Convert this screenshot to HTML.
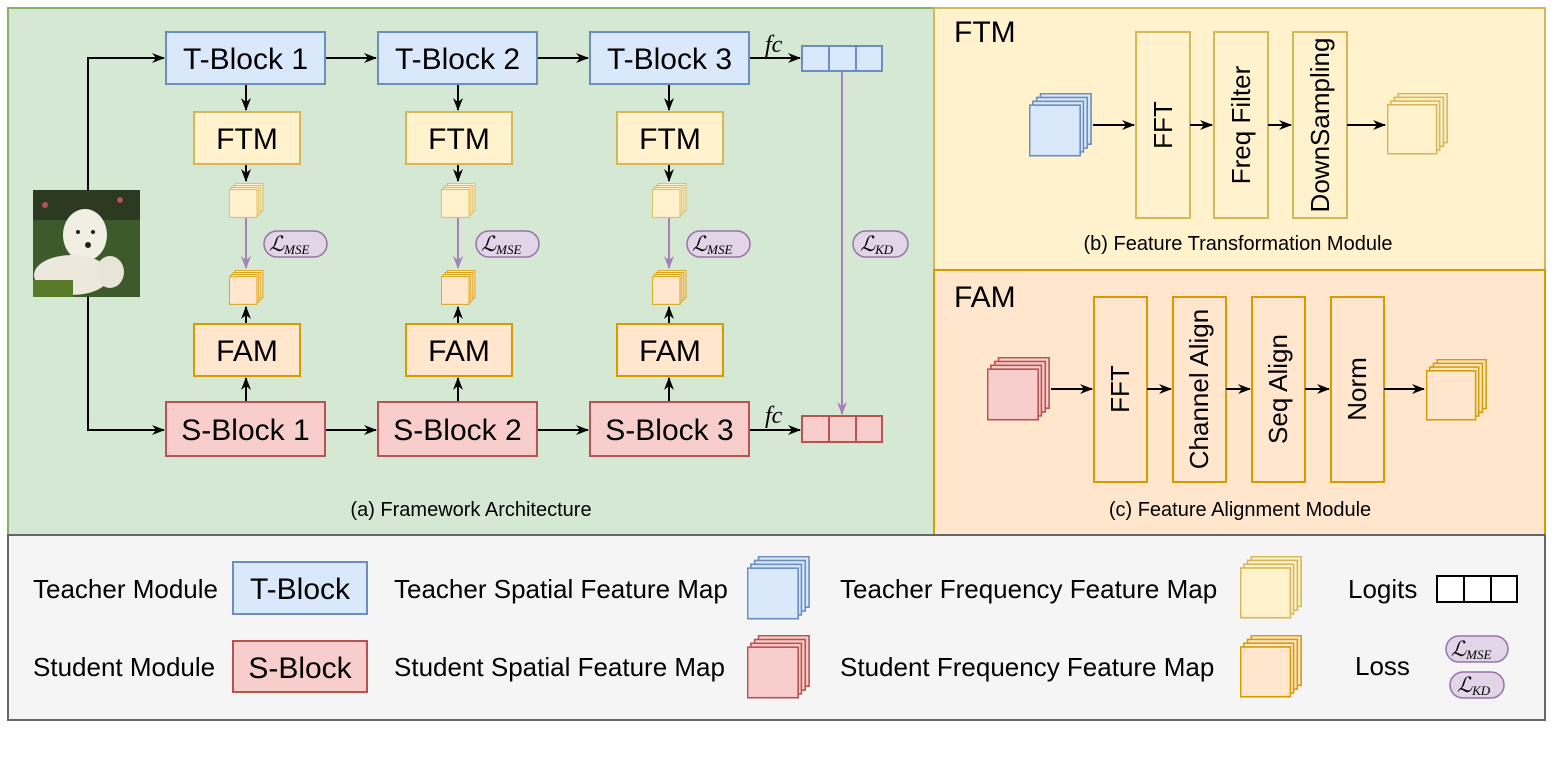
<!DOCTYPE html>
<html><head><meta charset="utf-8"><style>
html,body{margin:0;padding:0;background:#fff;}
svg{display:block;font-family:"Liberation Sans",sans-serif;}
</style></head><body>
<svg width="1554" height="761" viewBox="0 0 1554 761" xmlns="http://www.w3.org/2000/svg">
<defs>
<marker id="ab" markerWidth="13" markerHeight="12" refX="12" refY="6" orient="auto" markerUnits="userSpaceOnUse"><path d="M0,1 L13,6 L0,11 L4,6 z" fill="#000"/></marker>
<marker id="ap" markerWidth="13" markerHeight="12" refX="12" refY="6" orient="auto" markerUnits="userSpaceOnUse"><path d="M0,1 L13,6 L0,11 L4,6 z" fill="#a680b8"/></marker>
<symbol id="sb" viewBox="0 0 100 100"><g fill="#dae8fc" stroke="#6c8ebf" stroke-width="2.5"><rect x="18" y="1" width="79" height="79"/><rect x="12" y="7" width="79" height="79"/><rect x="6" y="13" width="79" height="79"/><rect x="1" y="19" width="79" height="79"/></g></symbol>
<symbol id="sr" viewBox="0 0 100 100"><g fill="#f8cecc" stroke="#b85450" stroke-width="2.5"><rect x="18" y="1" width="79" height="79"/><rect x="12" y="7" width="79" height="79"/><rect x="6" y="13" width="79" height="79"/><rect x="1" y="19" width="79" height="79"/></g></symbol>
<symbol id="sy" viewBox="0 0 100 100"><g fill="#fff2cc" stroke="#d6b656" stroke-width="2.5"><rect x="18" y="1" width="79" height="79"/><rect x="12" y="7" width="79" height="79"/><rect x="6" y="13" width="79" height="79"/><rect x="1" y="19" width="79" height="79"/></g></symbol>
<symbol id="so" viewBox="0 0 100 100"><g fill="#ffe6cc" stroke="#d79b00" stroke-width="2.5"><rect x="18" y="1" width="79" height="79"/><rect x="12" y="7" width="79" height="79"/><rect x="6" y="13" width="79" height="79"/><rect x="1" y="19" width="79" height="79"/></g></symbol>
</defs>

<rect x="8" y="8" width="926" height="527" fill="#d5e8d4" stroke="#82b366" stroke-width="2"/>
<rect x="934" y="8" width="611" height="262" fill="#fff2cc" stroke="#d6b656" stroke-width="2"/>
<rect x="934" y="270" width="611" height="265" fill="#ffe6cc" stroke="#d79b00" stroke-width="2"/>
<rect x="8" y="535" width="1537" height="185" fill="#f5f5f5" stroke="#666" stroke-width="2"/>

<rect x="33" y="190" width="107" height="107" fill="#3d5a2a"/>
<rect x="33" y="190" width="107" height="30" fill="#2c3a22"/>
<circle cx="45" cy="205" r="3" fill="#b05060"/><circle cx="120" cy="200" r="3" fill="#b05060"/>
<ellipse cx="85" cy="235" rx="22" ry="26" fill="#f1eee4"/>
<ellipse cx="72" cy="275" rx="38" ry="20" fill="#ece8dc"/>
<ellipse cx="110" cy="272" rx="14" ry="16" fill="#e8e4d8"/>
<rect x="33" y="280" width="40" height="17" fill="#5a7a2a"/>
<circle cx="78" cy="232" r="2" fill="#222"/><circle cx="93" cy="232" r="2" fill="#222"/><circle cx="88" cy="245" r="3" fill="#222"/>

<path d="M88,190 V58 H164" fill="none" stroke="#000" stroke-width="2" marker-end="url(#ab)"/>
<path d="M88,297 V430 H164" fill="none" stroke="#000" stroke-width="2" marker-end="url(#ab)"/>
<g stroke="#000" stroke-width="2" fill="none">
<path d="M325,58 H376" marker-end="url(#ab)"/><path d="M537,58 H588" marker-end="url(#ab)"/><path d="M749,58 H800" marker-end="url(#ab)"/>
<path d="M325,430 H376" marker-end="url(#ab)"/><path d="M537,430 H588" marker-end="url(#ab)"/><path d="M749,430 H800" marker-end="url(#ab)"/>
</g>
<text x="765" y="52" font-family="Liberation Serif,serif" font-style="italic" font-size="24">fc</text>
<text x="765" y="423" font-family="Liberation Serif,serif" font-style="italic" font-size="24">fc</text>

<g id="col1">
<g stroke="#000" stroke-width="2"><path d="M246,84 V110" marker-end="url(#ab)"/><path d="M246,164 V181" marker-end="url(#ab)"/><path d="M246,402 V378" marker-end="url(#ab)"/><path d="M246,324 V307" marker-end="url(#ab)"/></g>
<path d="M246,218 V268" stroke="#a680b8" stroke-width="2" marker-end="url(#ap)"/>
</g>
<use href="#col1" x="212"/><use href="#col1" x="423"/>

<g font-size="30" text-anchor="middle">
<rect x="166" y="32" width="159" height="52" fill="#dae8fc" stroke="#6c8ebf" stroke-width="2"/><text x="245.5" y="69">T-Block 1</text>
<rect x="378" y="32" width="159" height="52" fill="#dae8fc" stroke="#6c8ebf" stroke-width="2"/><text x="457.5" y="69">T-Block 2</text>
<rect x="590" y="32" width="159" height="52" fill="#dae8fc" stroke="#6c8ebf" stroke-width="2"/><text x="669.5" y="69">T-Block 3</text>
<rect x="166" y="402" width="159" height="54" fill="#f8cecc" stroke="#b85450" stroke-width="2"/><text x="245.5" y="440">S-Block 1</text>
<rect x="378" y="402" width="159" height="54" fill="#f8cecc" stroke="#b85450" stroke-width="2"/><text x="457.5" y="440">S-Block 2</text>
<rect x="590" y="402" width="159" height="54" fill="#f8cecc" stroke="#b85450" stroke-width="2"/><text x="669.5" y="440">S-Block 3</text>
<rect x="194" y="112" width="106" height="52" fill="#fff2cc" stroke="#d6b656" stroke-width="2"/><text x="247" y="149">FTM</text>
<rect x="406" y="112" width="106" height="52" fill="#fff2cc" stroke="#d6b656" stroke-width="2"/><text x="459" y="149">FTM</text>
<rect x="617" y="112" width="106" height="52" fill="#fff2cc" stroke="#d6b656" stroke-width="2"/><text x="670" y="149">FTM</text>
<rect x="194" y="324" width="106" height="52" fill="#ffe6cc" stroke="#d79b00" stroke-width="2"/><text x="247" y="361">FAM</text>
<rect x="406" y="324" width="106" height="52" fill="#ffe6cc" stroke="#d79b00" stroke-width="2"/><text x="459" y="361">FAM</text>
<rect x="617" y="324" width="106" height="52" fill="#ffe6cc" stroke="#d79b00" stroke-width="2"/><text x="670" y="361">FAM</text>
</g>

<use href="#sy" x="229" y="183" width="35" height="35"/><use href="#sy" x="441" y="183" width="35" height="35"/><use href="#sy" x="652" y="183" width="35" height="35"/>
<use href="#so" x="229" y="270" width="35" height="35"/><use href="#so" x="441" y="270" width="35" height="35"/><use href="#so" x="652" y="270" width="35" height="35"/>

<g fill="#e1d5e7" stroke="#9673a6" stroke-width="1.5">
<rect x="264" y="231" width="63" height="26" rx="13"/><rect x="476" y="231" width="63" height="26" rx="13"/><rect x="687" y="231" width="63" height="26" rx="13"/>
<rect x="853" y="231" width="55" height="26" rx="13"/>
<rect x="1446" y="636" width="62" height="26" rx="13"/><rect x="1450" y="672" width="54" height="26" rx="13"/>
</g>
<g font-family="Liberation Serif,serif" font-style="italic" font-size="21">
<text x="269" y="251">ℒ<tspan font-size="13" dy="3">MSE</tspan></text>
<text x="481" y="251">ℒ<tspan font-size="13" dy="3">MSE</tspan></text>
<text x="692" y="251">ℒ<tspan font-size="13" dy="3">MSE</tspan></text>
<text x="860" y="251">ℒ<tspan font-size="13" dy="3">KD</tspan></text>
<text x="1451" y="656">ℒ<tspan font-size="13" dy="3">MSE</tspan></text>
<text x="1457" y="692">ℒ<tspan font-size="13" dy="3">KD</tspan></text>
</g>

<path d="M842,71 V414" stroke="#a680b8" stroke-width="2" marker-end="url(#ap)"/>
<g fill="#dae8fc" stroke="#6c8ebf" stroke-width="2"><rect x="802" y="46" width="27" height="25"/><rect x="829" y="46" width="27" height="25"/><rect x="856" y="46" width="26" height="25"/></g>
<g fill="#f8cecc" stroke="#b85450" stroke-width="2"><rect x="802" y="416" width="27" height="26"/><rect x="829" y="416" width="27" height="26"/><rect x="856" y="416" width="26" height="26"/></g>

<text x="471" y="516" font-size="20" text-anchor="middle">(a) Framework Architecture</text>

<text x="954" y="42" font-size="30">FTM</text>
<use href="#sb" x="1029" y="93" width="64" height="64"/>
<use href="#sy" x="1387" y="93" width="62" height="62"/>
<g fill="#fff2cc" stroke="#d6b656" stroke-width="2">
<rect x="1136" y="32" width="54" height="186"/><rect x="1214" y="32" width="54" height="186"/><rect x="1293" y="32" width="54" height="186"/>
</g>
<g stroke="#000" stroke-width="2"><path d="M1093,125 H1134" marker-end="url(#ab)"/><path d="M1190,125 H1212" marker-end="url(#ab)"/><path d="M1268,125 H1291" marker-end="url(#ab)"/><path d="M1347,125 H1385" marker-end="url(#ab)"/></g>
<g font-size="26" text-anchor="middle">
<text transform="translate(1172,125) rotate(-90)">FFT</text>
<text transform="translate(1250,125) rotate(-90)">Freq Filter</text>
<text transform="translate(1329,125) rotate(-90)">DownSampling</text>
</g>
<text x="1238" y="250" font-size="20" text-anchor="middle">(b) Feature Transformation Module</text>

<text x="954" y="307" font-size="30">FAM</text>
<use href="#sr" x="987" y="357" width="64" height="64"/>
<use href="#so" x="1426" y="359" width="62" height="62"/>
<g fill="#ffe6cc" stroke="#d79b00" stroke-width="2">
<rect x="1094" y="297" width="53" height="185"/><rect x="1173" y="297" width="53" height="185"/><rect x="1252" y="297" width="53" height="185"/><rect x="1331" y="297" width="53" height="185"/>
</g>
<g stroke="#000" stroke-width="2"><path d="M1051,389 H1092" marker-end="url(#ab)"/><path d="M1147,389 H1171" marker-end="url(#ab)"/><path d="M1226,389 H1250" marker-end="url(#ab)"/><path d="M1305,389 H1329" marker-end="url(#ab)"/><path d="M1384,389 H1424" marker-end="url(#ab)"/></g>
<g font-size="26" text-anchor="middle">
<text transform="translate(1129,389) rotate(-90)">FFT</text>
<text transform="translate(1208,389) rotate(-90)">Channel Align</text>
<text transform="translate(1287,389) rotate(-90)">Seq Align</text>
<text transform="translate(1366,389) rotate(-90)">Norm</text>
</g>
<text x="1240" y="516" font-size="20" text-anchor="middle">(c) Feature Alignment Module</text>

<g font-size="26">
<text x="33" y="598">Teacher Module</text>
<text x="33" y="676">Student Module</text>
<text x="394" y="598">Teacher Spatial Feature Map</text>
<text x="394" y="676">Student Spatial Feature Map</text>
<text x="840" y="598">Teacher Frequency Feature Map</text>
<text x="840" y="676">Student Frequency Feature Map</text>
<text x="1348" y="598">Logits</text>
<text x="1355" y="675">Loss</text>
</g>
<rect x="233" y="562" width="134" height="52" fill="#dae8fc" stroke="#6c8ebf" stroke-width="2"/>
<text x="300" y="599" font-size="30" text-anchor="middle">T-Block</text>
<rect x="233" y="641" width="134" height="51" fill="#f8cecc" stroke="#b85450" stroke-width="2"/>
<text x="300" y="678" font-size="30" text-anchor="middle">S-Block</text>
<use href="#sb" x="747" y="556" width="64" height="64"/>
<use href="#sr" x="747" y="635" width="64" height="64"/>
<use href="#sy" x="1240" y="556" width="63" height="63"/>
<use href="#so" x="1240" y="635" width="63" height="63"/>
<g fill="#fff" stroke="#000" stroke-width="2"><rect x="1437" y="576" width="27" height="26"/><rect x="1464" y="576" width="27" height="26"/><rect x="1491" y="576" width="26" height="26"/></g>
</svg>
</body></html>
